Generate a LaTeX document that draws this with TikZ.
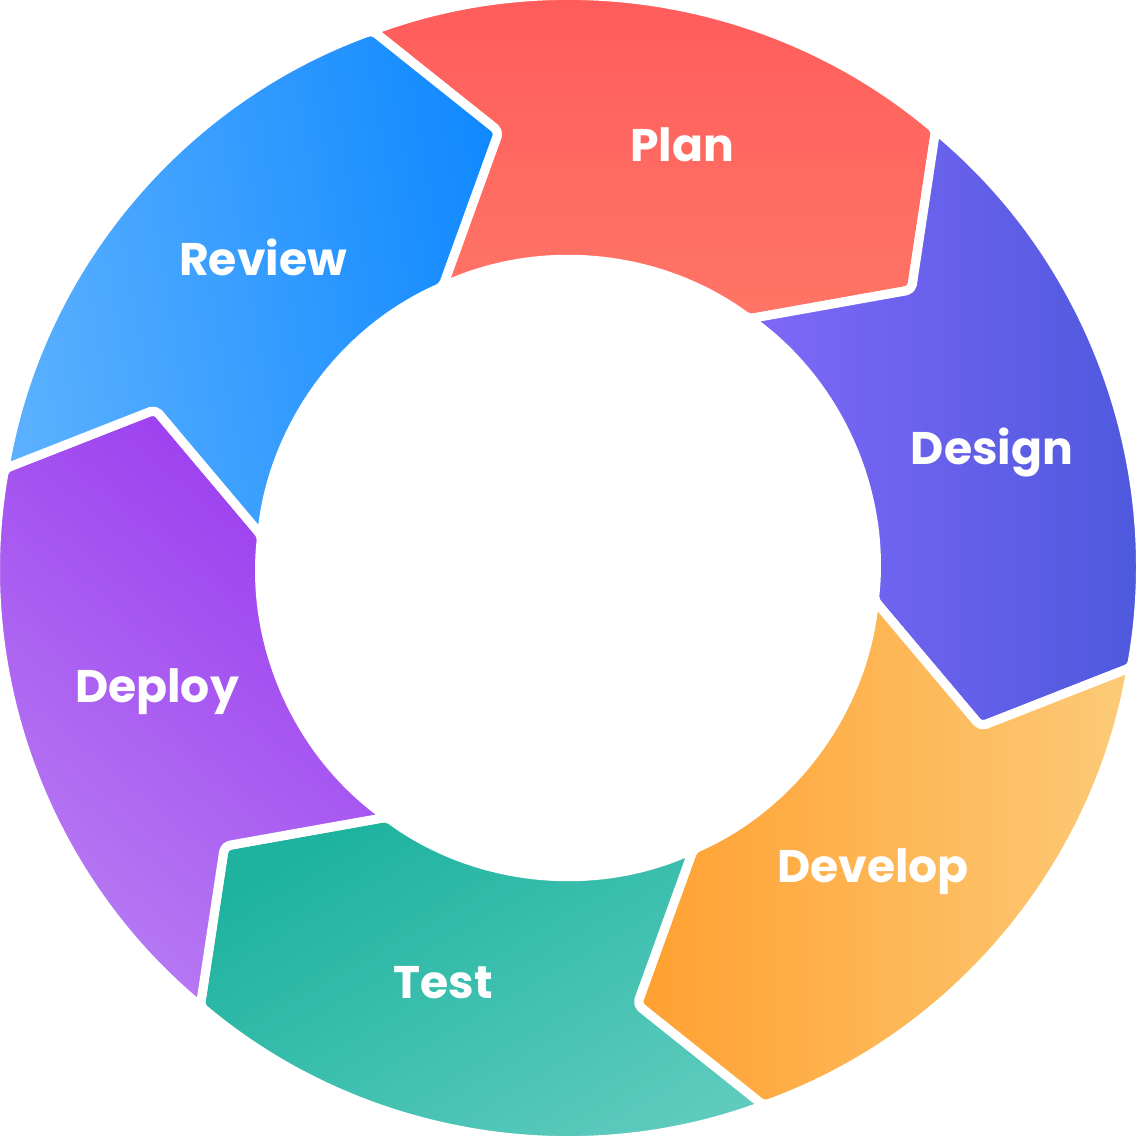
\documentclass[tikz,border=0pt]{standalone}
\usepackage{fontspec}
\setmainfont{Poppins}
\begin{document}
\begin{tikzpicture}[
  seg/.style={draw=white,line width=2.6pt,line join=round,rounded corners=1.5pt},
  lbl/.style={text=white,font=\fontsize{13}{15}\selectfont\bfseries}]
\useasboundingbox (-5.68,-5.70) rectangle (5.70,5.68);
\def\Ro{5.72}\def\Ri{3.08}\def\Rt{4.42}
\foreach \k/\ca/\cb/\ang in {0/FF5A5A/FF7566/0,1/4A58DC/8068F8/-90,2/FCCB78/FFA030/-90,3/1DB39F/5ECBBE/30,4/9B3CEF/B87DF3/-40,5/128AFF/5AB0FF/-80}{
  \pgfmathsetmacro\ao{110-60*\k}
  \pgfmathsetmacro\bo{50-60*\k}
  \pgfmathsetmacro\bt{39-60*\k}
  \pgfmathsetmacro\bi{54-60*\k}
  \pgfmathsetmacro\ai{114-60*\k}
  \pgfmathsetmacro\at{99-60*\k}
  \definecolor{c1}{HTML}{\ca}\definecolor{c2}{HTML}{\cb}
  \path[seg,left color=c1,right color=c2,shading angle=\ang]
    (\ao:\Ro) arc[start angle=\ao,end angle=\bo,radius=\Ro]
    -- (\bt:\Rt) -- (\bi:\Ri)
    arc[start angle=\bi,end angle=\ai,radius=\Ri]
    -- (\at:\Rt) -- cycle;
}
\node[lbl] (plan) at (1.14,4.23) {Plan};
\node[lbl] (design) at (4.24,1.16) {Design};
\node[lbl] (develop) at (3.05,-3.04) {Develop};
\node[lbl] (test) at (-1.25,-4.15) {Test};
\node[lbl] (deploy) at (-4.11,-1.24) {Deploy};
\node[lbl] (review) at (-3.05,3.11) {Review};
\end{tikzpicture}
\end{document}
